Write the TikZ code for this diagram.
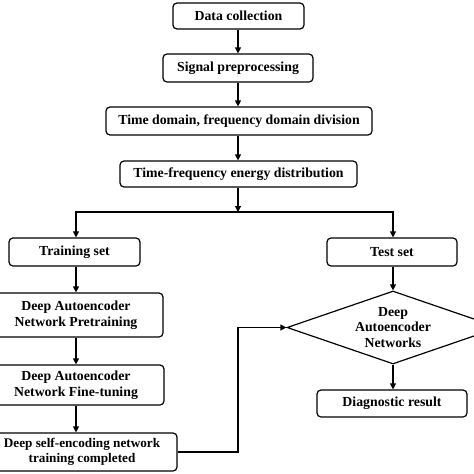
\documentclass[tikz,border=0pt]{standalone}
\usepackage{fontspec}
\setmainfont{Liberation Serif}
\usetikzlibrary{shapes.geometric,arrows.meta}
\begin{document}
\begin{tikzpicture}[x=1pt,y=-1pt,
  box/.style={draw,line width=1.2pt,rounded corners=4pt,align=center,inner sep=0pt,
    font=\fontsize{13.8}{15.8}\selectfont\bfseries},
  dia/.style={draw,line width=1.2pt,diamond,aspect=2.9,inner sep=0pt,align=center,
    font=\fontsize{13.8}{15.8}\selectfont\bfseries},
  arr/.style={line width=1.2pt,-{Triangle[length=6pt,width=6pt]}}]
\useasboundingbox (0,0) rectangle (474,474);
\clip (0,0) rectangle (474,474);
\node[box,minimum width=131pt,minimum height=26pt] (dc) at (238.5,16) {Data collection};
\node[box,minimum width=150pt,minimum height=28pt] (sp) at (238,68) {Signal preprocessing};
\node[box,minimum width=266pt,minimum height=28pt] (td) at (239,121) {Time domain, frequency domain division};
\node[box,minimum width=237pt,minimum height=26pt] (tf) at (238.5,174) {Time-frequency energy distribution};
\node[box,minimum width=131pt,minimum height=28pt] (tr) at (74.5,252) {Training set};
\node[box,minimum width=130pt,minimum height=28pt] (ts) at (392,252) {Test set};
\node[box,minimum width=174pt,minimum height=44pt] (pt) at (76,315) {Deep Autoencoder\\Network Pretraining};
\node[box,minimum width=176pt,minimum height=40pt] (ft) at (76,385) {Deep Autoencoder\\Network Fine-tuning};
\node[box,minimum width=190pt,minimum height=38pt,font=\fontsize{13.2}{15.5}\selectfont\bfseries] (cp) at (82,452) {Deep self-encoding network\\training completed};
\node[dia,minimum width=212pt,minimum height=73pt] (dn) at (393,327.5) {Deep\\Autoencoder\\Networks};
\node[box,minimum width=150pt,minimum height=27pt] (dr) at (392,403.5) {Diagnostic result};
\coordinate (br) at (238,212);
\coordinate (bx) at (238,0);
\draw[arr] (dc.south -| 238,0) -- (sp.north -| 238,0);
\draw[arr] (sp.south -| 238,0) -- (td.north -| 238,0);
\draw[arr] (td.south -| 238,0) -- (tf.north -| 238,0);
\draw[arr] (tf.south -| br) -- (br);
\draw[arr] (br) -| (tr.north -| 76,0);
\draw[arr] (br) -| (ts.north -| dn.north);
\draw[arr] (tr.south -| 76,0) -- (pt.north -| 76,0);
\draw[arr] (pt.south -| 76,0) -- (ft.north -| 76,0);
\draw[arr] (ft.south -| 76,0) -- (cp.north -| 76,0);
\draw[arr] (ts.south -| dn.north) -- (dn.north);
\draw[arr] (dn.south) -- (dr.north -| dn.south);
\draw[arr] (cp.east) -| (bx |- dn.west) -- (dn.west);
\end{tikzpicture}
\end{document}
